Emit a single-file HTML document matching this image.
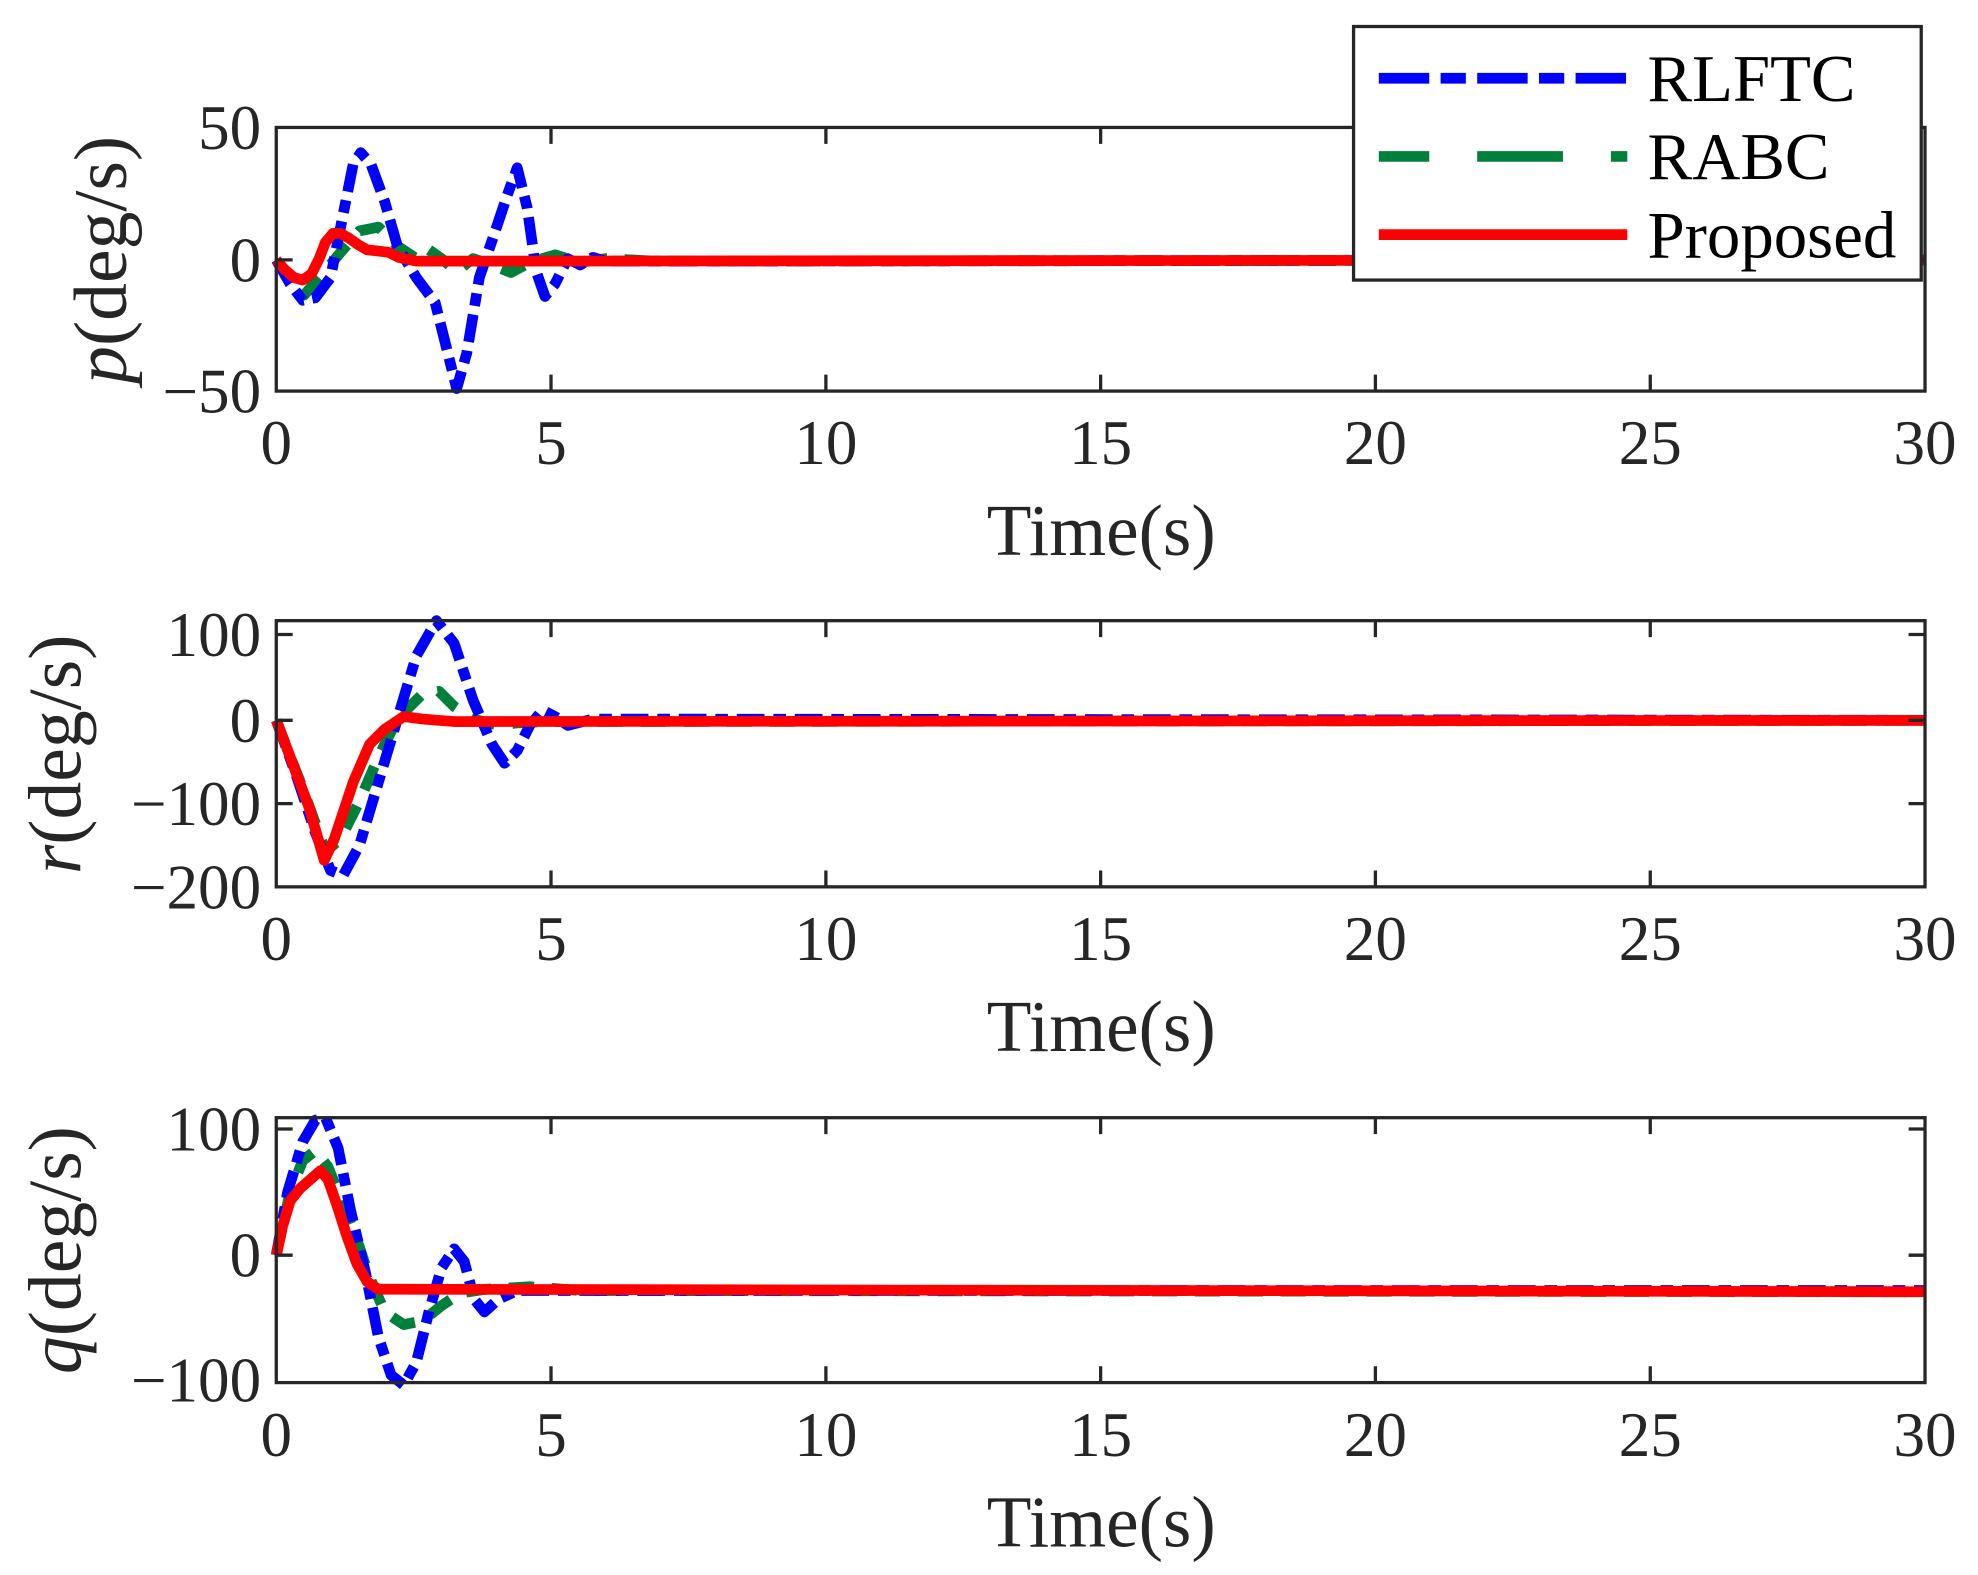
<!DOCTYPE html>
<html><head><meta charset="utf-8"><style>
html,body{margin:0;padding:0;background:#fff;}
svg{display:block;}
text{font-family:"Liberation Serif",serif;fill:#262626;}
</style></head><body>
<svg width="1978" height="1575" viewBox="0 0 1568 1248.5" xmlns="http://www.w3.org/2000/svg">
<rect width="1568" height="1248.5" fill="#fff"/>
<g fill="none" stroke-linejoin="round" stroke-linecap="butt">
<!-- plot 1 -->
<polyline stroke="#00803a" stroke-width="8.5" stroke-dasharray="20 14" points="219,206 230,222 241,234 255,218 270,200 285,183 300,180 315,195 330,205 340,198 350,205 362,215 375,205 390,210 405,216 420,208 440,202 460,208 480,205 520,207 1526,206"/>
<polyline stroke="#0000ff" stroke-width="8.5" stroke-dasharray="22 7 10 7" points="219,206 230,225 240,238 250,236 262,220 272,170 280,130 286,121 294,130 305,160 315,195 330,220 345,240 355,280 362,308 370,280 380,220 392,185 402,155 410,133 418,165 425,215 432,235 440,225 450,205 460,210 470,204 480,207 1526,206"/>
<polyline stroke="#ff0000" stroke-width="8.5" points="219,206 226,214 233,220 240,222 247,217 253,205 258,192 264,185 270,185 277,189 284,194 291,198 300,199 308,200 316,204 330,207 360,207 1526,206"/>
<!-- plot 2 -->
<polyline stroke="#00803a" stroke-width="8.5" stroke-dasharray="20 14" points="219,571 240,625 258,675 270,665 285,635 300,600 315,570 335,550 348,548 360,560 375,570 395,575 410,573 430,572 1526,571"/>
<polyline stroke="#0000ff" stroke-width="8.5" stroke-dasharray="22 7 10 7" points="219,571 235,615 250,660 262,690 272,694 285,670 300,620 315,570 330,520 346,492 360,510 375,555 390,590 400,605 410,595 420,575 430,563 440,568 450,575 470,570 1526,571"/>
<polyline stroke="#ff0000" stroke-width="8.5" points="219,571 230,600 245,640 257,682 265,665 280,620 293,590 305,578 320,568 335,570 360,572 1526,571"/>
<!-- plot 3 -->
<polyline stroke="#00803a" stroke-width="8.5" stroke-dasharray="20 14" points="219,995 230,945 240,920 250,912 260,925 270,950 282,980 292,1010 305,1040 320,1050 335,1047 350,1035 365,1025 385,1022 420,1020 460,1023 1526,1024"/>
<polyline stroke="#0000ff" stroke-width="8.5" stroke-dasharray="22 7 10 7" points="219,995 228,945 240,905 250,888 258,886 268,910 278,960 290,1010 300,1060 310,1090 320,1098 330,1080 340,1040 350,1005 360,990 368,1000 376,1030 384,1040 395,1030 410,1023 1526,1023"/>
<polyline stroke="#ff0000" stroke-width="8.5" points="219,995 224,972 230,952 238,942 246,935 254,928 260,935 267,955 275,980 283,1002 291,1016 300,1022 320,1022 1526,1024"/>
</g>
<!-- axes boxes -->
<g fill="none" stroke="#262626" stroke-width="2.6">
<rect x="219" y="101" width="1307" height="209"/>
<rect x="219" y="492" width="1307" height="211"/>
<rect x="219" y="886" width="1307" height="210"/>
<path d="M436.8,310v-13M654.7,310v-13M872.5,310v-13M1090.3,310v-13M1308.2,310v-13M436.8,101v13M654.7,101v13M872.5,101v13M1090.3,101v13M1308.2,101v13M219,206h13M1526,206h-13"/>
<path d="M436.8,703v-13M654.7,703v-13M872.5,703v-13M1090.3,703v-13M1308.2,703v-13M436.8,492v13M654.7,492v13M872.5,492v13M1090.3,492v13M1308.2,492v13M219,503h13M219,571h13M219,637h13M1526,503h-13M1526,571h-13M1526,637h-13"/>
<path d="M436.8,1096v-13M654.7,1096v-13M872.5,1096v-13M1090.3,1096v-13M1308.2,1096v-13M436.8,886v13M654.7,886v13M872.5,886v13M1090.3,886v13M1308.2,886v13M219,895h13M219,995h13M1526,895h-13M1526,995h-13"/>
</g>
<!-- tick labels -->
<g font-size="50" text-anchor="middle">
<text x="219" y="368">0</text><text x="436.8" y="368">5</text><text x="654.7" y="368">10</text><text x="872.5" y="368">15</text><text x="1090.3" y="368">20</text><text x="1308.2" y="368">25</text><text x="1526" y="368">30</text>
<text x="219" y="761">0</text><text x="436.8" y="761">5</text><text x="654.7" y="761">10</text><text x="872.5" y="761">15</text><text x="1090.3" y="761">20</text><text x="1308.2" y="761">25</text><text x="1526" y="761">30</text>
<text x="219" y="1154">0</text><text x="436.8" y="1154">5</text><text x="654.7" y="1154">10</text><text x="872.5" y="1154">15</text><text x="1090.3" y="1154">20</text><text x="1308.2" y="1154">25</text><text x="1526" y="1154">30</text>
</g>
<g font-size="50" text-anchor="end">
<text x="207" y="118">50</text><text x="207" y="223">0</text><text x="207" y="327">−50</text>
<text x="207" y="520">100</text><text x="207" y="588">0</text><text x="207" y="654">−100</text><text x="207" y="720">−200</text>
<text x="207" y="912">100</text><text x="207" y="1012">0</text><text x="207" y="1111">−100</text>
</g>
<g font-size="58" text-anchor="middle">
<text x="873" y="440">Time(s)</text>
<text x="873" y="833">Time(s)</text>
<text x="873" y="1226">Time(s)</text>
</g>
<g font-size="60" text-anchor="middle">
<text transform="translate(100,206) rotate(-90)"><tspan font-style="italic">p</tspan>(deg/s)</text>
<text transform="translate(64,598) rotate(-90)"><tspan font-style="italic">r</tspan>(deg/s)</text>
<text transform="translate(64,991) rotate(-90)"><tspan font-style="italic">q</tspan>(deg/s)</text>
</g>
<!-- legend -->
<rect x="1073" y="21" width="450" height="201" fill="#fff" stroke="#262626" stroke-width="2.6"/>
<line x1="1093" y1="62" x2="1290" y2="62" stroke="#0000ff" stroke-width="8.5" stroke-dasharray="40 9 20 9"/>
<line x1="1093" y1="124" x2="1290" y2="124" stroke="#00803a" stroke-width="8.5" stroke-dasharray="40 38 40 0 28 38 20 0"/>
<line x1="1093" y1="186" x2="1290" y2="186" stroke="#ff0000" stroke-width="8.5"/>
<g font-size="53">
<text x="1306" y="80" style="fill:#000">RLFTC</text>
<text x="1306" y="142" style="fill:#000">RABC</text>
<text x="1306" y="204" style="fill:#000">Proposed</text>
</g>
</svg>
</body></html>
